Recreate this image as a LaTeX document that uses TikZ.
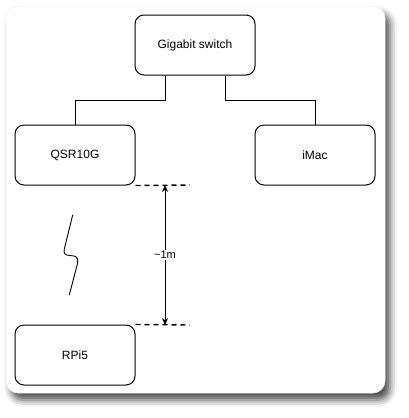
\documentclass[tikz,border=0pt]{standalone}
\usepackage{fontspec}
\setmainfont{Liberation Sans}
\usetikzlibrary{shadows.blur,arrows.meta}
\begin{document}
\begin{tikzpicture}[x=1pt,y=-1pt,
  box/.style={draw=black,line width=1pt,rounded corners=9pt,minimum width=120pt,minimum height=60pt,inner sep=0pt,font=\fontsize{12}{14}\selectfont,fill=white},
  link/.style={draw=black,line width=1pt},
  dash line/.style={draw=black,line width=1.4pt,dash pattern=on 5pt off 4pt}]
\useasboundingbox (0,0) rectangle (408,418);
\fill[white,rounded corners=12pt,blur shadow={shadow xshift=5pt,shadow yshift=-7pt,shadow blur radius=7pt,shadow opacity=70}] (6,6) rectangle (385,393);
\draw[black!6,line width=0.5pt,rounded corners=12pt] (6,6) rectangle (385,393);
\node[box] (sw) at (195,45) {Gigabit switch};
\node[box] (qsr) at (75,155) {QSR10G};
\node[box] (imac) at (315,155) {iMac};
\node[box] (rpi) at (75,355) {RPi5};
\draw[link] ([xshift=-30pt]sw.south) |- (75,100) -- (qsr.north);
\draw[link] ([xshift=30pt]sw.south) |- (315,100) -- (imac.north);
\coordinate (d1) at (190,185);
\coordinate (d2) at (190,325);
\draw[dash line] (qsr.south east) -- (d1);
\draw[dash line] (rpi.north east) -- (d2);
\coordinate (a1) at (165,185);
\coordinate (a2) at (165,325);
\draw[link,{Stealth[length=7pt,width=6pt]}-{Stealth[length=7pt,width=6pt]}] (a1) -- node[fill=white,inner sep=1pt,font=\fontsize{11}{13}\selectfont] (lbl) {\textasciitilde1m} (a2);
\draw[link,line width=0.9pt] (72.7,215) -- (64.3,249) .. controls (63.5,253.5) and (65,255) .. (68.5,255.3) -- (74,256) .. controls (77.5,256.8) and (78.2,259.5) .. (77.5,263.5) -- (69.3,295);
\end{tikzpicture}
\end{document}
